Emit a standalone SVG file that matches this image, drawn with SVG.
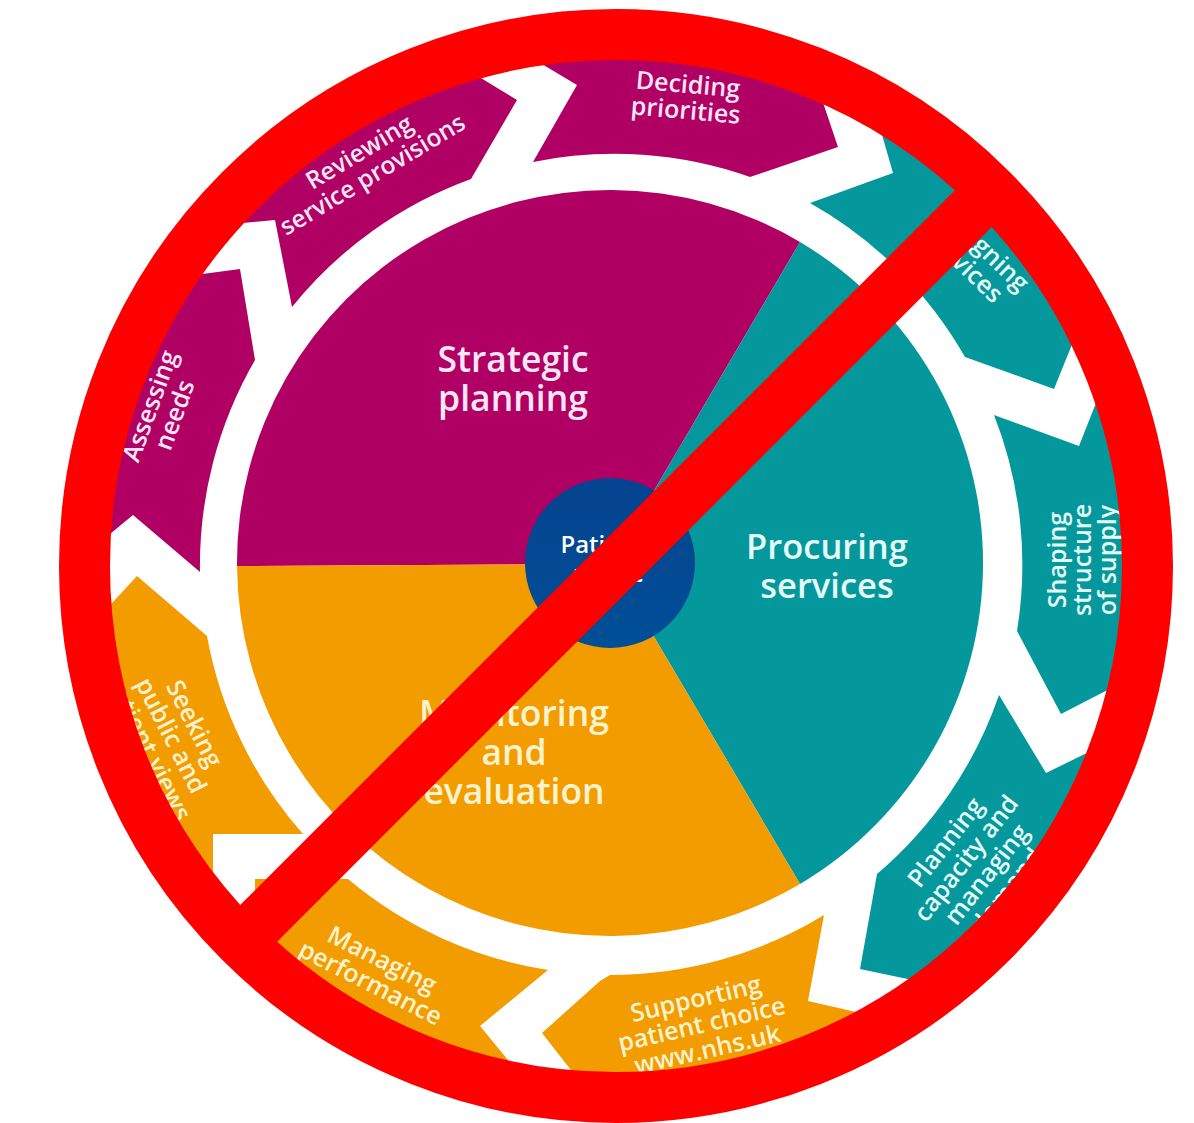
<svg xmlns="http://www.w3.org/2000/svg" width="1194" height="1123" viewBox="0 0 1194 1123">
<style>
text{font-family:"Open Sans","Noto Sans","Liberation Sans",sans-serif;font-weight:600;text-anchor:middle}
.big{font-size:35.5px}
.sm{font-size:25px}
.p{fill:#b00064}.t{fill:#04979c}.o{fill:#f39c00}
.pt{fill:#fbe6f6}.tt{fill:#e4fbf8}.ot{fill:#fdf3cf}
</style>
<defs>
<clipPath id="ringClip"><circle cx="616" cy="566" r="510"/></clipPath>
<linearGradient id="blue" x1="0" y1="0" x2="0" y2="1"><stop offset="0" stop-color="#05438f"/><stop offset="1" stop-color="#004f96"/></linearGradient>
</defs>
<rect width="1194" height="1123" fill="#fff"/>
<g id="core">
<path id="strategic" class="p" d="M611 564 L800 242 A373 373 0 0 0 237 566 Z"/>
<path id="procuring" class="t" d="M611 564 L800 242 A373 373 0 0 1 800 884 Z"/>
<path id="monitoring" class="o" d="M611 564 L800 884 A373 373 0 0 1 237 566 Z"/>
<circle id="centre" cx="610" cy="563" r="85" fill="url(#blue)"/>
</g>
<g id="steps" clip-path="url(#ringClip)">
<path id="s-deciding" class="p" d="M500 39 L577 85 L533 162 A410 410 0 0 1 750 177 L838 147 L807 55 Z"/>
<path id="s-reviewing" class="p" d="M430 47 L517 100 L471 179 A410 410 0 0 0 292 307 L275 220 L190 228 L190 100 Z"/>
<path id="s-assessing" class="p" d="M240 269 L255 360 A410 410 0 0 0 200 572 L133 515 L60 575 L60 300 L150 281 Z"/>
<path id="s-seeking" class="o" d="M137 576 L207 636 A410 410 0 0 0 303 834 L213 834 L213 900 L60 900 L60 660 L113 602 Z"/>
<path id="s-managing" class="o" d="M255 879 L348 879 A410 410 0 0 0 548 970 L480 1026 L540 1099 L200 1000 L255 945 Z"/>
<path id="s-supporting" class="o" d="M600 981 L542 1033 L596 1102 L900 1102 L900 1022 L808 1001 L824 915 A410 410 0 0 1 610 975 Z"/>
<path id="s-planning" class="t" d="M999 695 L1046 773 L1150 722 L1150 990 L960 990 L860 969 L877 874 A410 410 0 0 0 999 695 Z"/>
<path id="s-shaping" class="t" d="M994 415 L1079 446 L1113 360 L1170 360 L1170 658 L1061 714 L1017 631 A410 410 0 0 0 994 415 Z"/>
<path id="s-designing" class="t" d="M893 173 L810 203 A410 410 0 0 1 965 357 L1054 389 L1088 305 L1088 93 L870 93 Z"/>
</g>
<g id="labels">
<text class="big pt" x="513" y="372">Strategic</text>
<text class="big pt" x="513" y="411">planning</text>
<text class="big tt" style="font-size:34.5px" x="827" y="559">Procuring</text>
<text class="big tt" style="font-size:34.5px" x="827" y="598">services</text>
<text class="big ot" x="514" y="726">Monitoring</text>
<text class="big ot" x="514" y="765">and</text>
<text class="big ot" x="514" y="804">evaluation</text>
<text fill="#fff" style="font-size:24px" x="608" y="553">Patients</text>
<text fill="#fff" style="font-size:24px" x="608" y="582">public</text>
<g transform="translate(687 96) rotate(5)"><text class="sm pt" y="-3">Deciding</text><text class="sm pt" y="23">priorities</text></g>
<g transform="translate(365 162) rotate(-31)" style="font-size:24.5px"><text class="pt" y="-3">Reviewing</text><text class="pt" y="23">service provisions</text></g>
<g transform="translate(161 410) rotate(-70)"><text class="sm pt" y="-3">Assessing</text><text class="sm pt" y="23">needs</text></g>
<g transform="translate(1003 282) rotate(44)"><text class="sm tt" y="-3" x="-40">Designing</text><text class="sm tt" y="23" x="-40">services</text></g>
<g transform="translate(1072 560) rotate(-90)"><text class="sm tt" y="-6">Shaping</text><text class="sm tt" y="19">structure</text><text class="sm tt" y="44">of supply</text></g>
<g transform="translate(968 860) rotate(-52)"><text class="sm tt" y="-20">Planning</text><text class="sm tt" y="6">capacity and</text><text class="sm tt" y="32">managing</text><text class="sm tt" y="58">demand</text></g>
<g transform="translate(700 1017) rotate(-13)"><text class="sm ot" y="-10">Supporting</text><text class="sm ot" y="16">patient choice</text><text class="sm ot" y="42">www.nhs.uk</text></g>
<g transform="translate(377 970) rotate(27)"><text class="sm ot" y="-3">Managing</text><text class="sm ot" y="23">performance</text></g>
<g transform="translate(176 733) rotate(63)"><text class="sm ot" y="-12">Seeking</text><text class="sm ot" y="14">public and</text><text class="sm ot" y="40">patient views</text></g>
</g>
<g id="prohibition" fill="none" stroke="#ff0000">
<circle cx="616" cy="566" r="531.5" stroke-width="51"/>
<line x1="994" y1="188" x2="238" y2="944" stroke-width="52"/>
</g>
</svg>
